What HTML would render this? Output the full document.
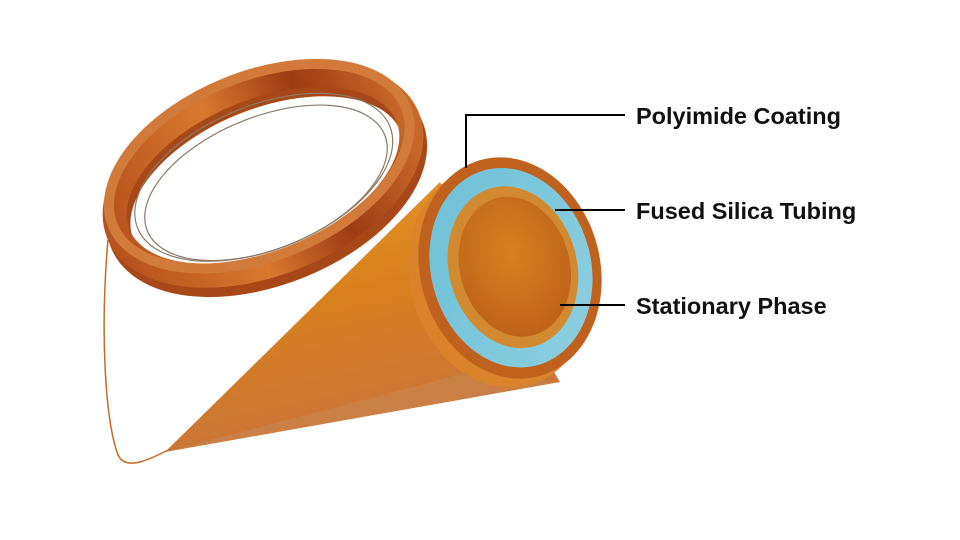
<!DOCTYPE html>
<html><head><meta charset="utf-8"><style>
html,body{margin:0;padding:0;background:#fff;width:960px;height:540px;overflow:hidden}
svg{display:block}
text{font-family:"Liberation Sans",Arial,sans-serif;font-weight:bold;font-size:23.5px;fill:#111}
</style></head><body>
<svg width="960" height="540" viewBox="0 0 960 540">
<defs>
<linearGradient id="cone" x1="0" y1="0" x2="0.3" y2="1">
<stop offset="0" stop-color="#e89a2a"/><stop offset="0.5" stop-color="#d9801e"/><stop offset="1" stop-color="#c8743a"/>
</linearGradient>
<linearGradient id="ring" x1="0" y1="0" x2="1" y2="0">
<stop offset="0" stop-color="#b8531e"/><stop offset="0.4" stop-color="#d9782e"/><stop offset="0.7" stop-color="#9c3c14"/><stop offset="1" stop-color="#c86828"/>
</linearGradient>
<radialGradient id="core" cx="0.5" cy="0.4" r="0.6">
<stop offset="0" stop-color="#d4811e"/><stop offset="1" stop-color="#c0631a"/>
</radialGradient>
<linearGradient id="blue" x1="0" y1="0" x2="1" y2="1">
<stop offset="0" stop-color="#6cbfd6"/><stop offset="1" stop-color="#8fcfe0"/>
</linearGradient>
</defs>
<path d="M108,240 C100,330 105,420 118,455 C125,470 145,462 168,450" fill="none" stroke="#c86a2a" stroke-width="1.5"/>
<g transform="rotate(-22 260 168)">
<ellipse cx="260" cy="186" rx="156" ry="88" fill="none" stroke="#a84818" stroke-width="24"/>
<ellipse cx="260" cy="176" rx="156" ry="88" fill="none" stroke="url(#ring)" stroke-width="24"/>
<ellipse cx="260" cy="166" rx="158" ry="90" fill="none" stroke="#d27a3a" stroke-width="10"/>
<ellipse cx="260" cy="178" rx="136" ry="72" fill="none" stroke="#8a7a66" stroke-width="1.2"/>
<ellipse cx="260" cy="184" rx="128" ry="66" fill="none" stroke="#8a7a66" stroke-width="1.2"/>
</g>
<polygon points="165,452 440,182 560,382" fill="url(#cone)"/>
<polygon points="165,452 470,372 560,382" fill="#c9874e" opacity="0.6"/>
<g transform="rotate(-15 510 268)">
<ellipse cx="498" cy="274" rx="90" ry="112" fill="#d9832a"/>
<ellipse cx="510" cy="268" rx="90" ry="112" fill="#c0621e"/>
<ellipse cx="511" cy="268" rx="80" ry="101" fill="url(#blue)"/>
<ellipse cx="513" cy="268" rx="64" ry="82" fill="#d28a30"/>
<ellipse cx="515" cy="268" rx="55" ry="71" fill="url(#core)"/>
</g>
<polyline points="466,168 466,115 625,115" fill="none" stroke="#000" stroke-width="2"/>
<line x1="555" y1="210" x2="625" y2="210" stroke="#000" stroke-width="2"/>
<line x1="560" y1="305" x2="625" y2="305" stroke="#000" stroke-width="2"/>
<text x="636" y="124">Polyimide Coating</text>
<text x="636" y="219">Fused Silica Tubing</text>
<text x="636" y="314">Stationary Phase</text>
</svg>
</body></html>
